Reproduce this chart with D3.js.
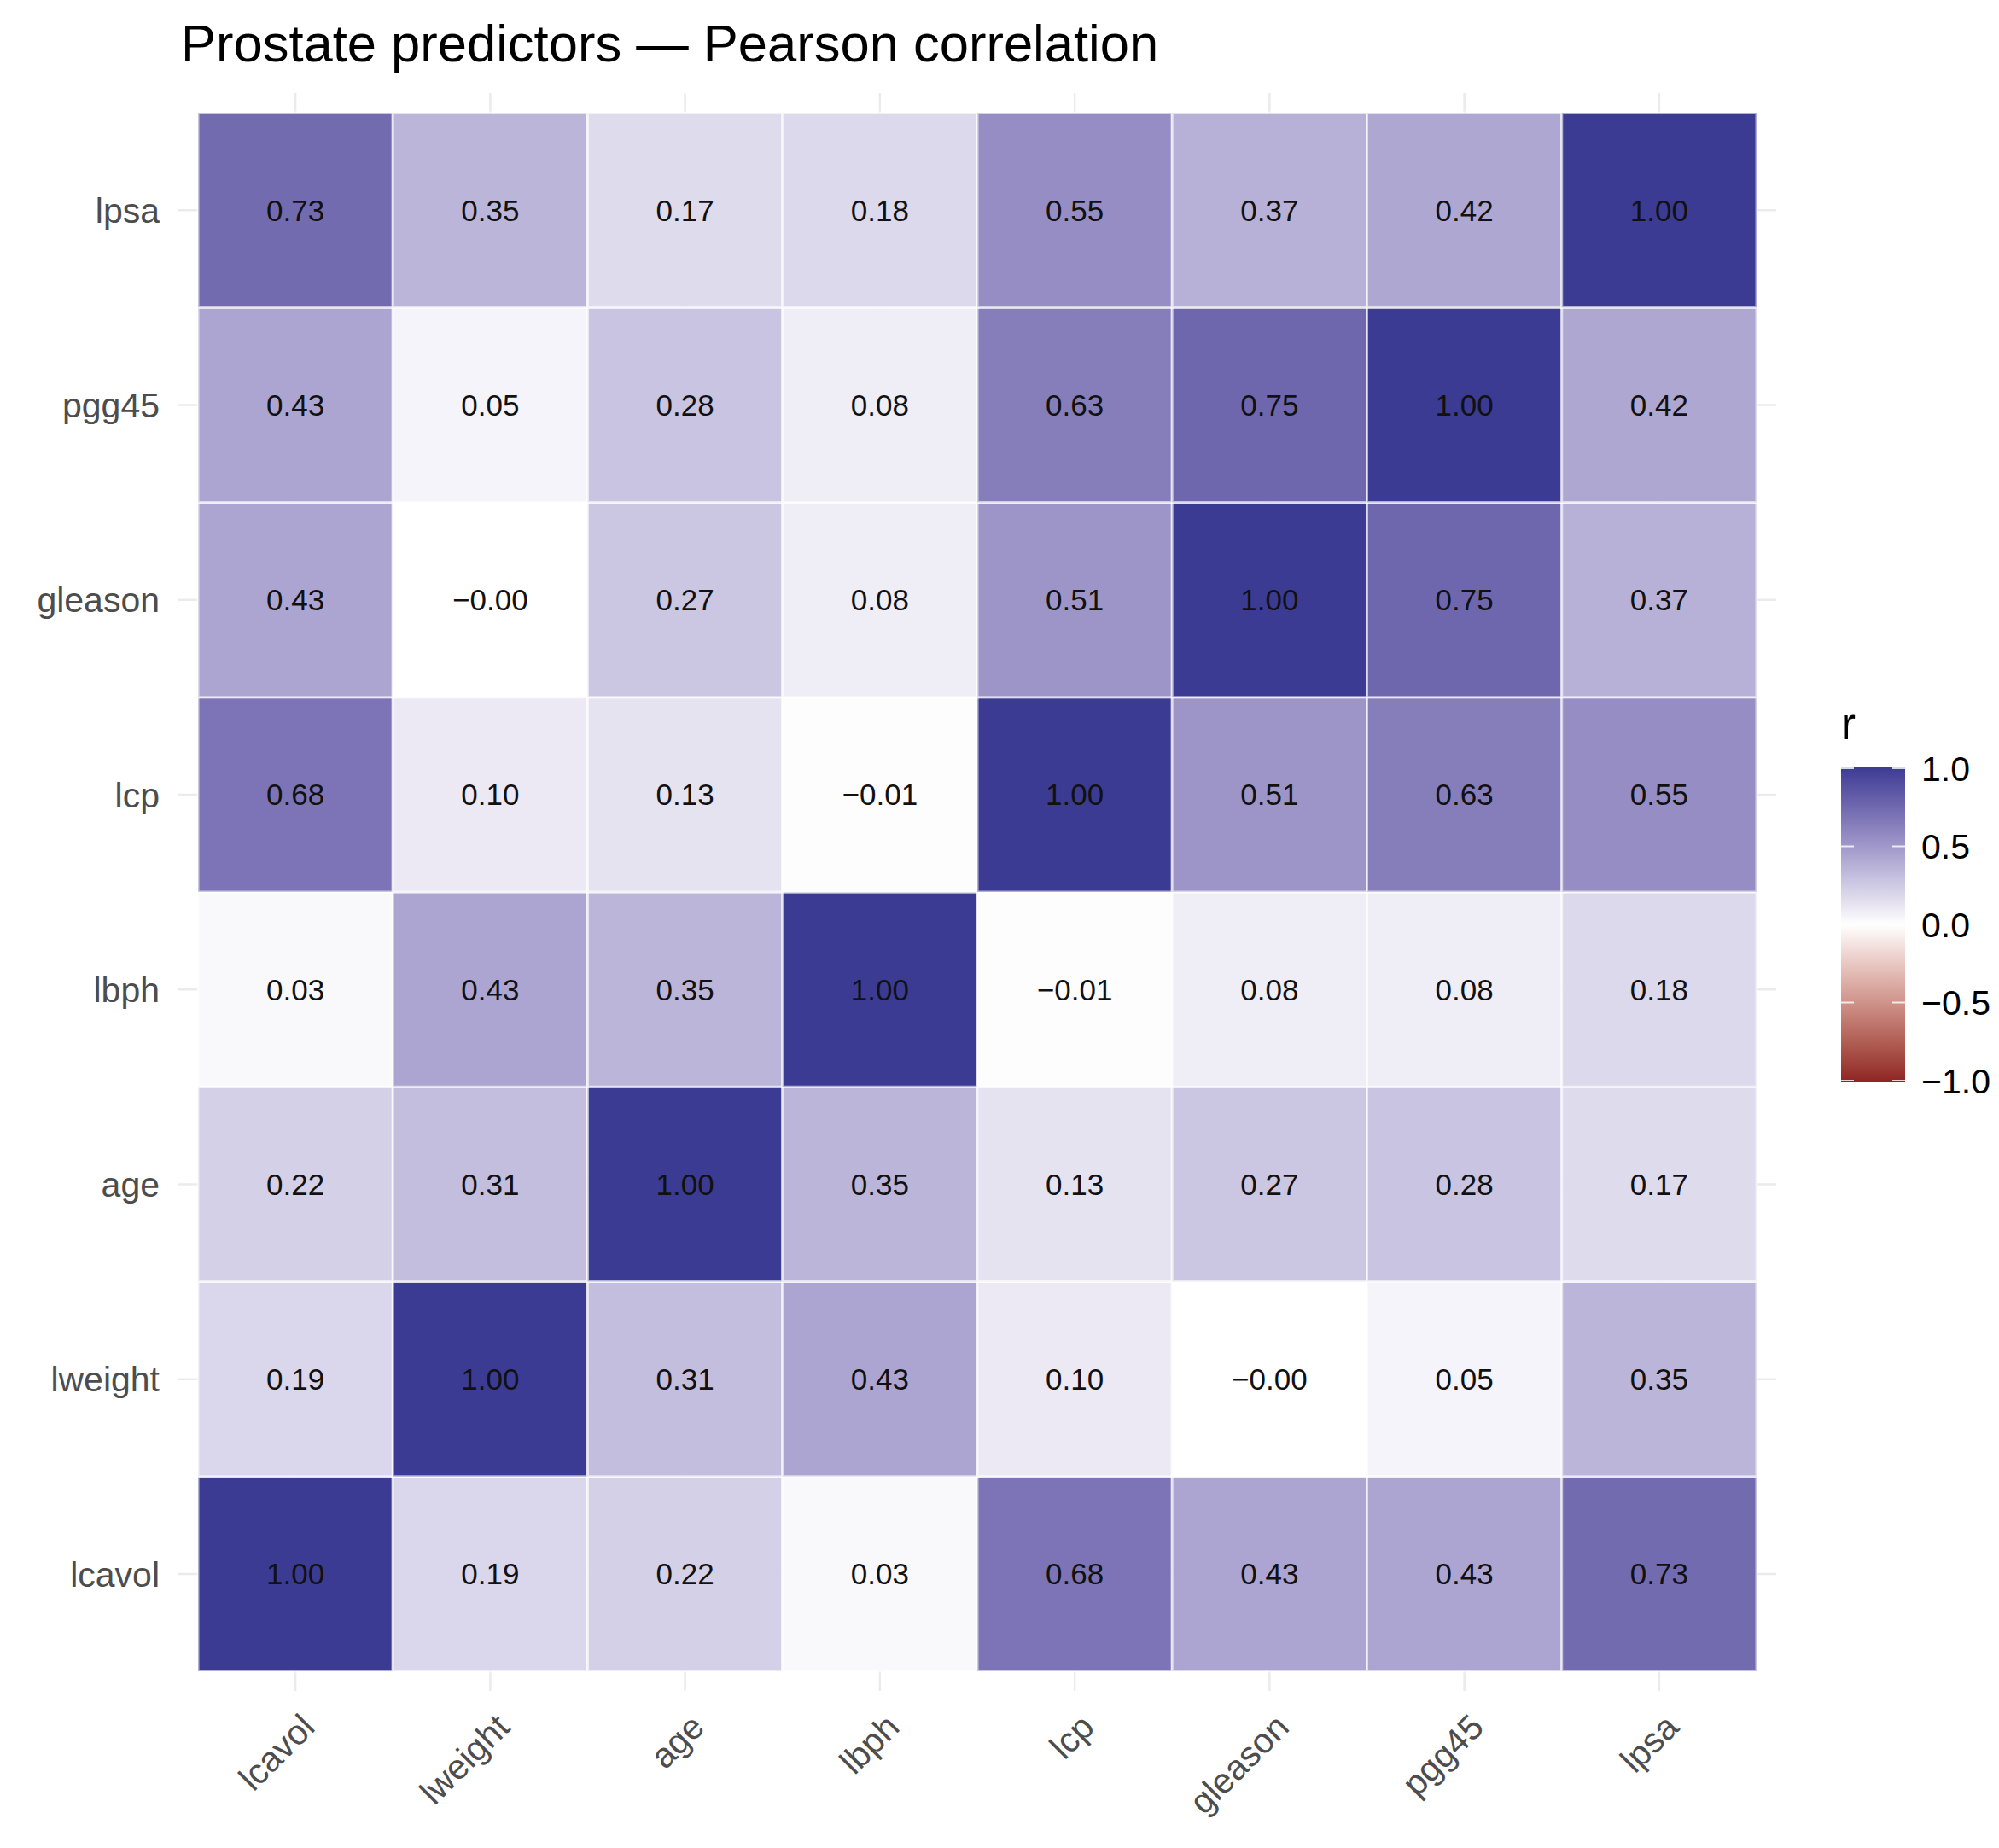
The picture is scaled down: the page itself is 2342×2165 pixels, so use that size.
<!DOCTYPE html>
<html>
<head>
<meta charset="utf-8">
<script src="https://cdn.jsdelivr.net/npm/d3@7"></script>
<style>
  body { margin: 0; background: #fff; }
  text { font-family: "Liberation Sans", Arial, sans-serif; }
</style>
</head>
<body>
<svg id="chart" width="2342" height="2165"></svg>
<script>
// variables, in axis order (x left to right, y bottom to top)
const vars = ["lcavol", "lweight", "age", "lbph", "lcp", "gleason", "pgg45", "lpsa"];

// correlation matrix, rows/cols follow vars
const corr = [
  [1.00, 0.19, 0.22, 0.03, 0.68, 0.43, 0.43, 0.73],
  [0.19, 1.00, 0.31, 0.43, 0.10, -0.001, 0.05, 0.35],
  [0.22, 0.31, 1.00, 0.35, 0.13, 0.27, 0.28, 0.17],
  [0.03, 0.43, 0.35, 1.00, -0.01, 0.08, 0.08, 0.18],
  [0.68, 0.10, 0.13, -0.01, 1.00, 0.51, 0.63, 0.55],
  [0.43, -0.001, 0.27, 0.08, 0.51, 1.00, 0.75, 0.37],
  [0.43, 0.05, 0.28, 0.08, 0.63, 0.75, 1.00, 0.42],
  [0.73, 0.35, 0.17, 0.18, 0.55, 0.37, 0.42, 1.00]
];

const legendBreaks = [1.0, 0.5, 0.0, -0.5, -1.0];

const svg = d3.select("#chart");
const tiles = { left: 232, right: 2058, top: 132, bottom: 1958 };
const ext = 23; // panel extends a bit past the tiles

const x = d3.scaleBand().domain(vars).range([tiles.left, tiles.right]);
const y = d3.scaleBand().domain(vars.slice().reverse()).range([tiles.top, tiles.bottom]);

const color = d3.scaleLinear()
    .domain([-1, 0, 1])
    .range(["#8e2323", "#ffffff", "#3b3b93"])
    .interpolate(d3.interpolateLab);

const fmt = v => (v < 0 ? "\u2212" : "") + Math.abs(v).toFixed(2);

const cells = [];
vars.forEach((r, i) => vars.forEach((c, j) => cells.push({ row: r, col: c, value: corr[i][j] })));

// grid lines
const grid = svg.append("g").attr("stroke", "#ebebeb").attr("stroke-width", 2.5);
grid.selectAll(".vg").data(vars).enter().append("line")
    .attr("x1", d => x(d) + x.bandwidth() / 2).attr("x2", d => x(d) + x.bandwidth() / 2)
    .attr("y1", tiles.top - ext).attr("y2", tiles.bottom + ext);
grid.selectAll(".hg").data(vars).enter().append("line")
    .attr("y1", d => y(d) + y.bandwidth() / 2).attr("y2", d => y(d) + y.bandwidth() / 2)
    .attr("x1", tiles.left - ext).attr("x2", tiles.right + ext);

// tiles
svg.append("g").selectAll("rect").data(cells).enter().append("rect")
    .attr("x", d => x(d.col))
    .attr("y", d => y(d.row))
    .attr("width", x.bandwidth())
    .attr("height", y.bandwidth())
    .attr("fill", d => color(d.value))
    .attr("stroke", "#fff")
    .attr("stroke-opacity", 0.6)
    .attr("stroke-width", 3);

svg.append("g").selectAll("text").data(cells).enter().append("text")
    .attr("x", d => x(d.col) + x.bandwidth() / 2)
    .attr("y", d => y(d.row) + y.bandwidth() / 2)
    .attr("dy", "0.36em")
    .attr("text-anchor", "middle")
    .attr("font-size", 35)
    .attr("fill", "#111")
    .text(d => fmt(d.value));

// axis labels
svg.append("g").selectAll("text").data(vars).enter().append("text")
    .attr("x", tiles.left - ext - 22)
    .attr("y", d => y(d) + y.bandwidth() / 2)
    .attr("dy", "0.36em")
    .attr("text-anchor", "end")
    .attr("font-size", 41)
    .attr("fill", "#4d4d4d")
    .text(d => d);

svg.append("g").selectAll("text").data(vars).enter().append("text")
    .attr("transform", d => `translate(${x(d) + x.bandwidth() / 2 + 4},${tiles.bottom + ext + 24}) rotate(-45)`)
    .attr("dy", "0.72em")
    .attr("text-anchor", "end")
    .attr("font-size", 41)
    .attr("fill", "#4d4d4d")
    .text(d => d);

// title
svg.append("text")
    .attr("x", 212).attr("y", 72)
    .attr("font-size", 61.5)
    .attr("fill", "#000")
    .text("Prostate predictors \u2014 Pearson correlation");

// legend
const bar = { x: 2157, w: 75, top: 898, bottom: 1268 };
const ly = d3.scaleLinear().domain([-1, 1]).range([bar.bottom - 2, bar.top + 2]);

const grad = svg.append("defs").append("linearGradient")
    .attr("id", "rgrad").attr("x1", 0).attr("x2", 0).attr("y1", 1).attr("y2", 0);
d3.range(0, 1.0001, 0.05).forEach(t => {
    grad.append("stop").attr("offset", t).attr("stop-color", color(-1 + 2 * t));
});

svg.append("text")
    .attr("x", bar.x).attr("y", 866)
    .attr("font-size", 51)
    .attr("fill", "#000")
    .text("r");

svg.append("rect")
    .attr("x", bar.x).attr("y", bar.top)
    .attr("width", bar.w).attr("height", bar.bottom - bar.top)
    .attr("fill", "url(#rgrad)");

const lt = svg.append("g").attr("stroke", "#fff").attr("stroke-width", 2).attr("stroke-opacity", 0.8);
legendBreaks.forEach(b => {
    lt.append("line").attr("x1", bar.x).attr("x2", bar.x + 15).attr("y1", ly(b)).attr("y2", ly(b));
    lt.append("line").attr("x1", bar.x + bar.w - 15).attr("x2", bar.x + bar.w).attr("y1", ly(b)).attr("y2", ly(b));
});

svg.append("g").selectAll("text").data(legendBreaks).enter().append("text")
    .attr("x", bar.x + bar.w + 19)
    .attr("y", d => ly(d))
    .attr("dy", "0.36em")
    .attr("font-size", 41)
    .attr("fill", "#000")
    .text(d => (d < 0 ? "\u2212" : "") + Math.abs(d).toFixed(1));
</script>
</body>
</html>
